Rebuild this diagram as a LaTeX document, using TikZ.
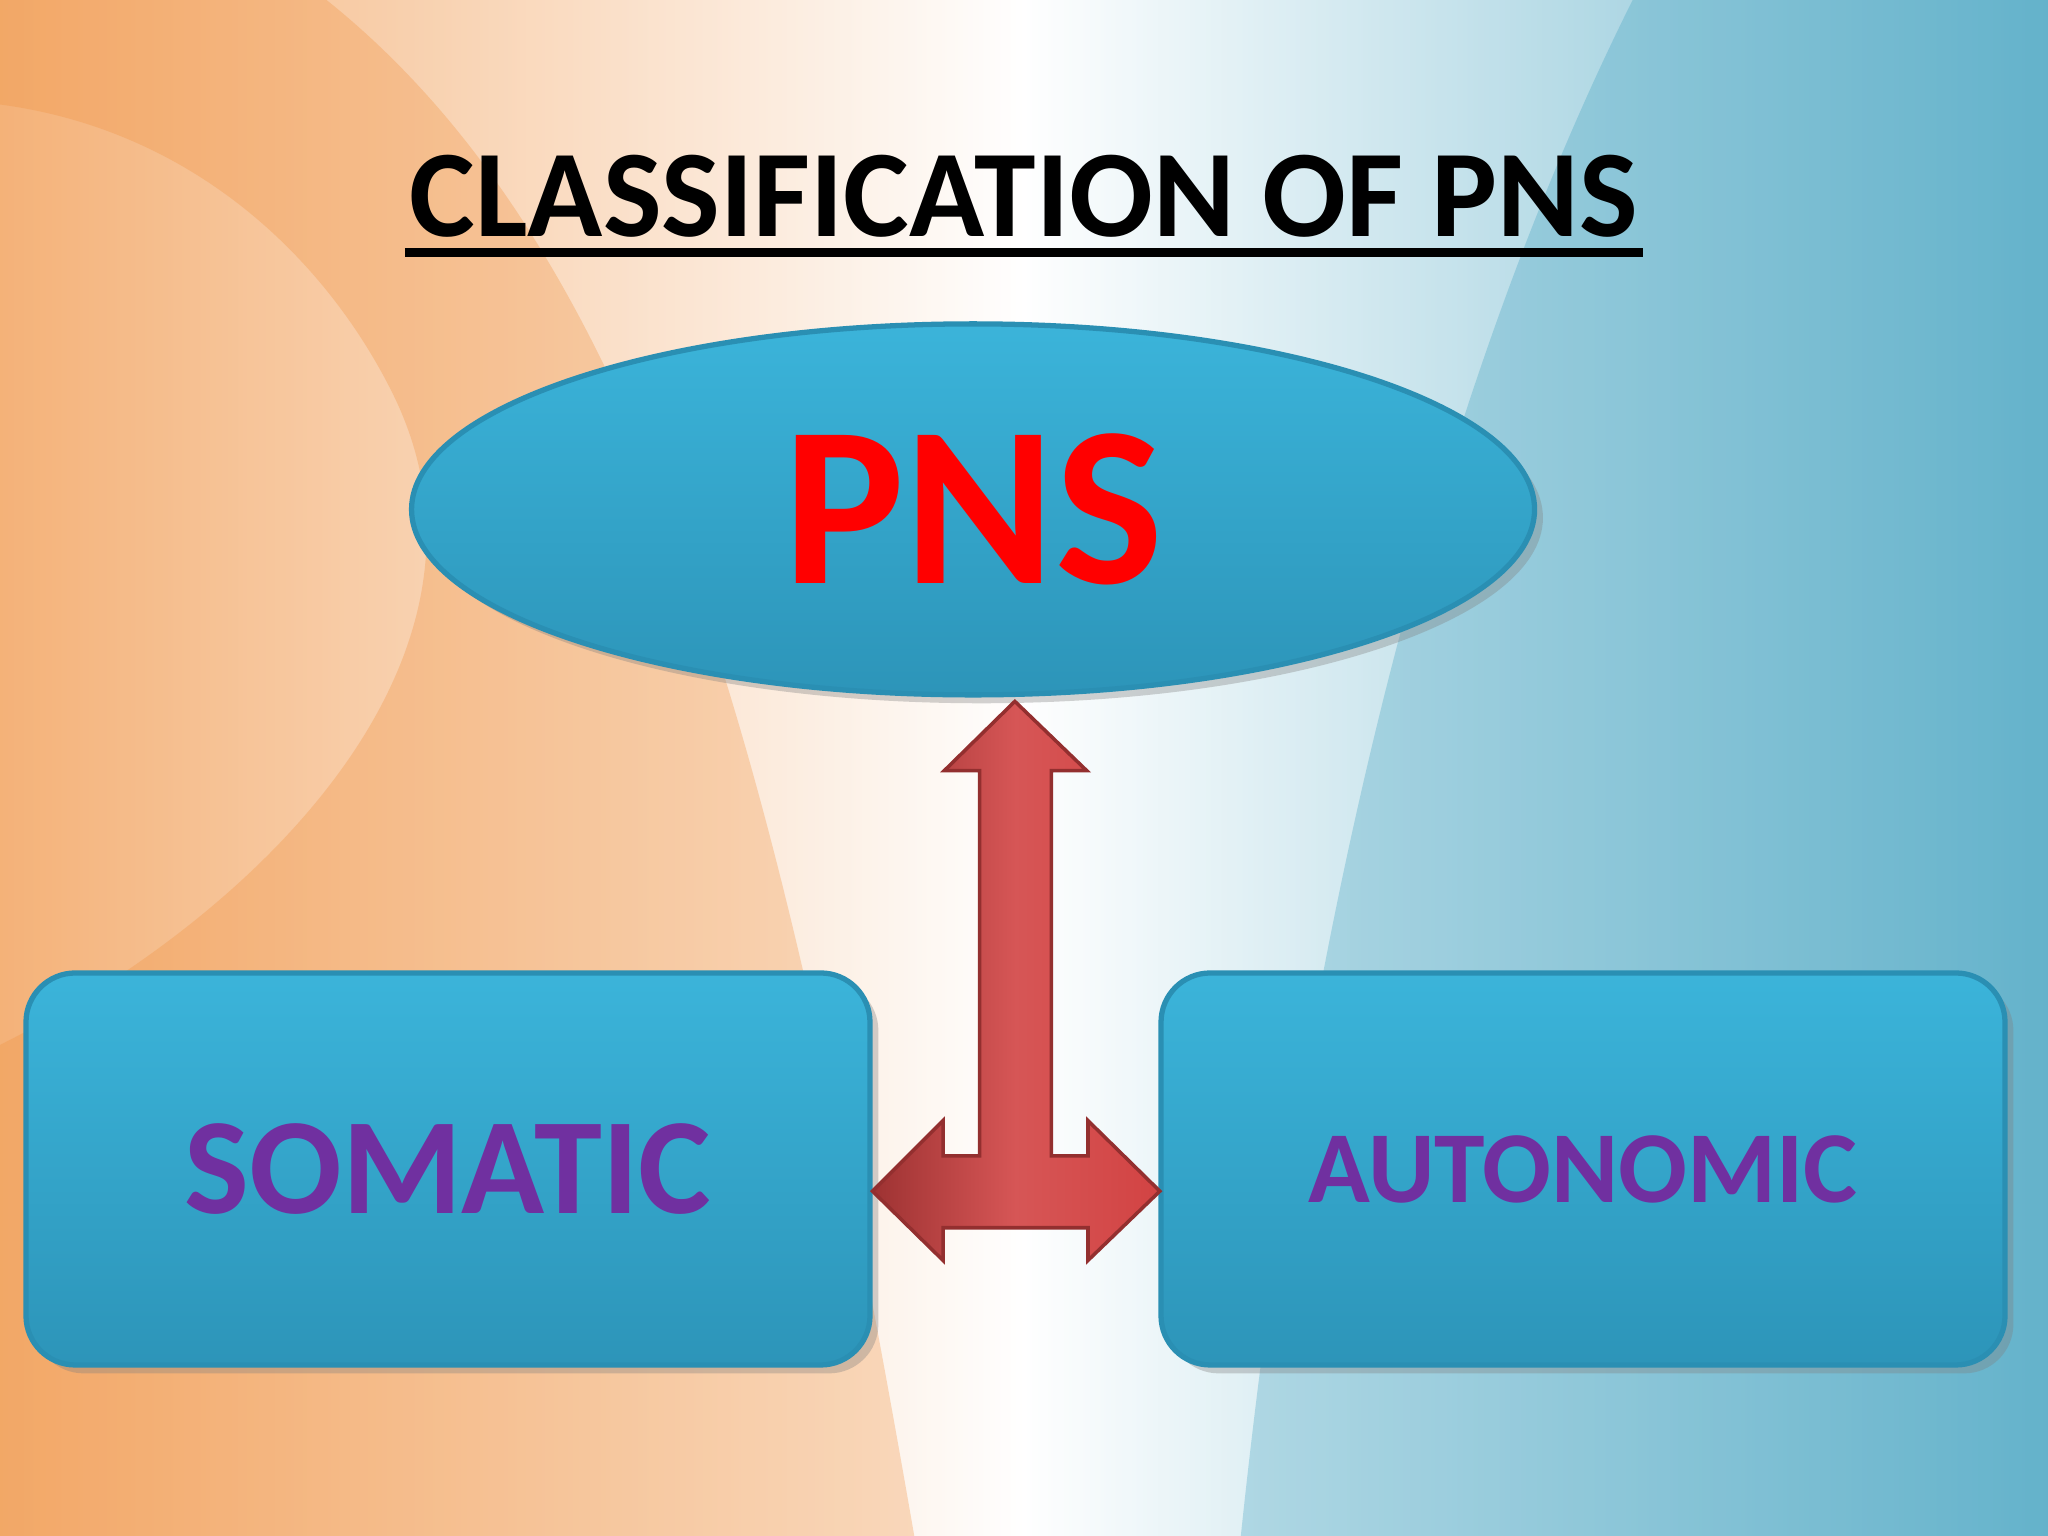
\documentclass[tikz,border=0pt]{standalone}
\usepackage{fontspec}
\setmainfont{Carlito}
\usetikzlibrary{shapes.geometric,shadows}
\definecolor{boxblue}{HTML}{3BB4DA}
\definecolor{boxedge}{HTML}{2A8FB3}
\definecolor{bgorange}{HTML}{F0913F}
\definecolor{bgteal}{HTML}{3C9FBE}
\definecolor{arrowred}{HTML}{D24343}
\definecolor{txtpurple}{HTML}{7030A0}
\tikzset{
  boxstyle/.style={draw=boxedge,line width=1.5pt,rounded corners=14pt,top color=boxblue,bottom color=boxedge!85!boxblue,drop shadow={opacity=0.35},inner sep=0pt},
}
\begin{document}
\begin{tikzpicture}[x=0.01306cm,y=-0.01306cm]
\useasboundingbox (0,0) rectangle (1568,1176);
\shade[left color=bgorange,right color=bgteal,middle color=white] (0,0) rectangle (1568,1176);
\fill[white,opacity=0.3] (0,0) rectangle (1568,1176);
\fill[bgorange,opacity=0.3] (250,0) .. controls (500,200) and (600,600) .. (700,1176) -- (0,1176) -- (0,800) .. controls (200,700) and (400,500) .. (300,300) .. controls (250,200) and (150,100) .. (0,80) -- (0,0) -- cycle;
\fill[bgteal,opacity=0.3] (1568,0) -- (1250,0) .. controls (1100,300) and (1000,700) .. (950,1176) -- (1568,1176) -- cycle;
\node[font=\bfseries\fontsize{35.3}{42}\selectfont] (title) at (784,150) {CLASSIFICATION OF PNS};
\draw[line width=2.6pt] (310,193) -- (1258,193);
\node[ellipse,minimum width=11.23cm,minimum height=3.71cm,inner sep=0pt,draw=boxedge,line width=1.5pt,top color=boxblue,bottom color=boxedge!85!boxblue,drop shadow={opacity=0.35}] (pns) at (745,390) {};
\node[text=red,font=\bfseries\fontsize{65}{70}\selectfont] at (pns) {PNS};
\node[boxstyle,minimum width=8.44cm,minimum height=3.92cm] (som) at (343,895) {};
\node[text=txtpurple,font=\bfseries\fontsize{39}{46}\selectfont] at (som) {SOMATIC};
\node[boxstyle,minimum width=8.44cm,minimum height=3.92cm] (aut) at (1212,895) {};
\node[text=txtpurple,font=\bfseries\fontsize{29}{36}\selectfont] at (aut) {AUTONOMIC};
\filldraw[draw=arrowred!70!black,line width=1pt,left color=arrowred!75!black,right color=arrowred,middle color=arrowred!90!white]
 (777,537) -- (832,590) -- (805,590) -- (805,885) -- (833,885) -- (833,858) -- (888,912) -- (833,965) -- (833,940) -- (722,940) -- (722,965) -- (668,912) -- (722,858) -- (722,885) -- (750,885) -- (750,590) -- (723,590) -- cycle;
\end{tikzpicture}
\end{document}
